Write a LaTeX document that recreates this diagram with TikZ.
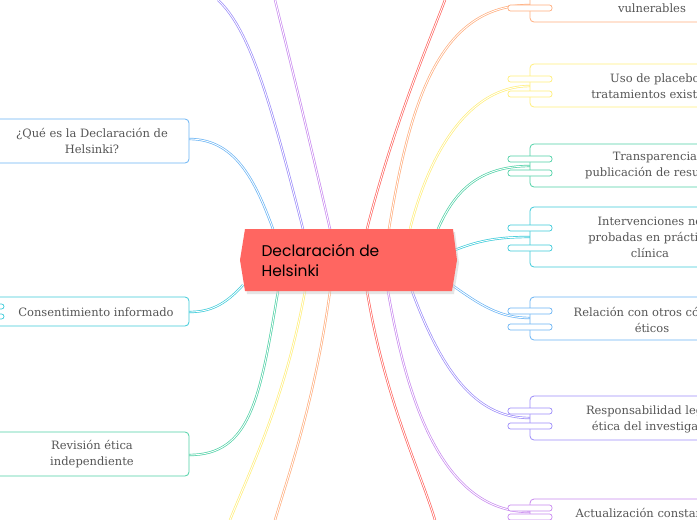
\documentclass[tikz,border=0pt]{standalone}
\usepackage{fontspec}
\setmainfont{DejaVu Serif}
\newfontfamily\titlefont{Poppins}
\definecolor{cred}{HTML}{FF6661}
\definecolor{corange}{HTML}{FFAE7E}
\definecolor{cyellow}{HTML}{FFEF7A}
\definecolor{cgreen}{HTML}{4FD1A6}
\definecolor{ccyan}{HTML}{3CCBDA}
\definecolor{cblue}{HTML}{6BB5F5}
\definecolor{cviolet}{HTML}{9C8CFA}
\definecolor{cpurple}{HTML}{C98AF0}
\definecolor{txt}{HTML}{555555}
\tikzset{
 conn/.style={draw=#1, line width=0.7pt, double=white, double distance=0.9pt},
 lbox/.style={draw=#1, rounded corners=4pt, line width=0.8pt, fill=white},
 tab/.style={draw=#1, rounded corners=2.5pt, line width=0.7pt, fill=white},
 lab/.style={text=txt, font=\fontsize{11.5}{16}\selectfont, align=center}
}
\begin{document}
\begin{tikzpicture}[x=1pt,y=-1pt]
\useasboundingbox (0,0) rectangle (697,520);
\fill[white] (0,0) rectangle (697,520);
% anchors on centre
\coordinate (cT1) at (273,229); \coordinate (cT2) at (303,229); \coordinate (cT3) at (330,229);
\coordinate (cT4) at (367,229); \coordinate (cT5) at (389,229); \coordinate (cT6) at (410,229);
\coordinate (cT7) at (438,229); \coordinate (cR1) at (455,250); \coordinate (cL1) at (243,285);
\coordinate (cB1) at (278,291); \coordinate (cB2) at (305,291); \coordinate (cB3) at (330,291);
\coordinate (cB4) at (367,291); \coordinate (cB5) at (388,291); \coordinate (cB6) at (412,291);
\coordinate (cR2) at (452,285);
% far ends
\coordinate (eq) at (189,139); \coordinate (ec) at (189,312); \coordinate (er) at (189,455);
\coordinate (o1) at (218,0); \coordinate (o2) at (275,0); \coordinate (o3) at (445,0);
\coordinate (o4) at (230,520); \coordinate (o5) at (275,520); \coordinate (o6) at (435,520);
\coordinate (rv) at (530,5); \coordinate (ru) at (530,86); \coordinate (rt) at (530,166);
\coordinate (ri) at (530,237); \coordinate (rr) at (530,318); \coordinate (rs) at (530,418);
\coordinate (ra) at (530,512);
% connectors
\draw[conn=cblue] (cT1) .. controls (255,180) and (235,139) .. (eq);
\draw[conn=ccyan] (cL1) .. controls (225,305) and (210,312) .. (ec);
\draw[conn=cgreen] (cB1) .. controls (260,400) and (250,455) .. (er);
\draw[conn=cviolet] (cT2) .. controls (270,100) and (250,30) .. (o1);
\draw[conn=cpurple] (cT3) .. controls (305,120) and (285,40) .. (o2);
\draw[conn=cred] (cT4) .. controls (395,120) and (430,40) .. (o3);
\draw[conn=corange] (cT5) .. controls (410,100) and (440,5) .. (rv);
\draw[conn=cyellow] (cT6) .. controls (430,150) and (470,86) .. (ru);
\draw[conn=cgreen] (cT7) .. controls (455,190) and (480,166) .. (rt);
\draw[conn=ccyan] (cR1) .. controls (480,240) and (500,237) .. (ri);
\draw[conn=cyellow] (cB2) .. controls (285,400) and (250,470) .. (o4);
\draw[conn=corange] (cB3) .. controls (315,400) and (290,470) .. (o5);
\draw[conn=cred] (cB4) .. controls (385,400) and (420,470) .. (o6);
\draw[conn=cpurple] (cB5) .. controls (410,420) and (450,512) .. (ra);
\draw[conn=cviolet] (cB6) .. controls (445,380) and (480,418) .. (rs);
\draw[conn=cblue] (cR2) .. controls (480,305) and (500,318) .. (rr);
% left boxes
\draw[lbox=cblue] (-5,119) rectangle (189,163);
\node[lab] (nq) at (92,141) {¿Qué es la Declaración de\\Helsinki?};
\draw[lbox=ccyan] (-5,297) rectangle (189,326);
\node[lab] (nc) at (96,312) {Consentimiento informado};
\draw[tab=ccyan] (-6,304) rectangle (4,309); \draw[tab=ccyan] (-6,314) rectangle (4,319);
\draw[lbox=cgreen] (-5,432) rectangle (189,476);
\node[lab] (nr) at (92,454) {Revisión ética\\independiente};
% right boxes
\newcommand{\rbox}[5]{%
 \draw[lbox=#1] (530,#2) rectangle (790,#3);
 \draw[tab=#1] (508,#4-3) rectangle (552,#4+3);
 \draw[tab=#1] (508,#5-3) rectangle (552,#5+3);}
\rbox{corange}{-25}{22}{-4}{8}
\node[lab] (nv) at (652,8) {vulnerables};
\rbox{cyellow}{64}{107}{79}{94}
\node[lab] (nu) at (660,86) {Uso de placebo y\\tratamientos existentes};
\rbox{cgreen}{144}{187}{159}{173}
\node[lab] (nt) at (660,165) {Transparencia y\\publicación de resultados};
\rbox{ccyan}{207}{267}{228}{248}
\node[lab] (ni) at (650,237) {Intervenciones no\\probadas en práctica\\clínica};
\rbox{cblue}{297}{340}{311}{327}
\node[lab] (nrel) at (652,320) {Relación con otros códigos\\éticos};
\rbox{cviolet}{396}{440}{411}{426}
\node[lab] (nres) at (655,419) {Responsabilidad legal y\\ética del investigador};
\rbox{cpurple}{499}{545}{508}{517}
\node[lab] (na) at (645,513) {Actualización constante};
% centre
\fill[black!20, opacity=0.5] (247,232) -- (455,232) -- (459,263) -- (454,294) -- (247,294) -- (242,263) -- cycle;
\fill[cred] (245,229) -- (453,229) -- (457,260) -- (452,291) -- (245,291) -- (240,260) -- cycle;
\node[font=\titlefont\fontsize{15.5}{20}\selectfont, align=left, anchor=west] (ctr) at (258,260) {Declaración de\\Helsinki};
\end{tikzpicture}
\end{document}
